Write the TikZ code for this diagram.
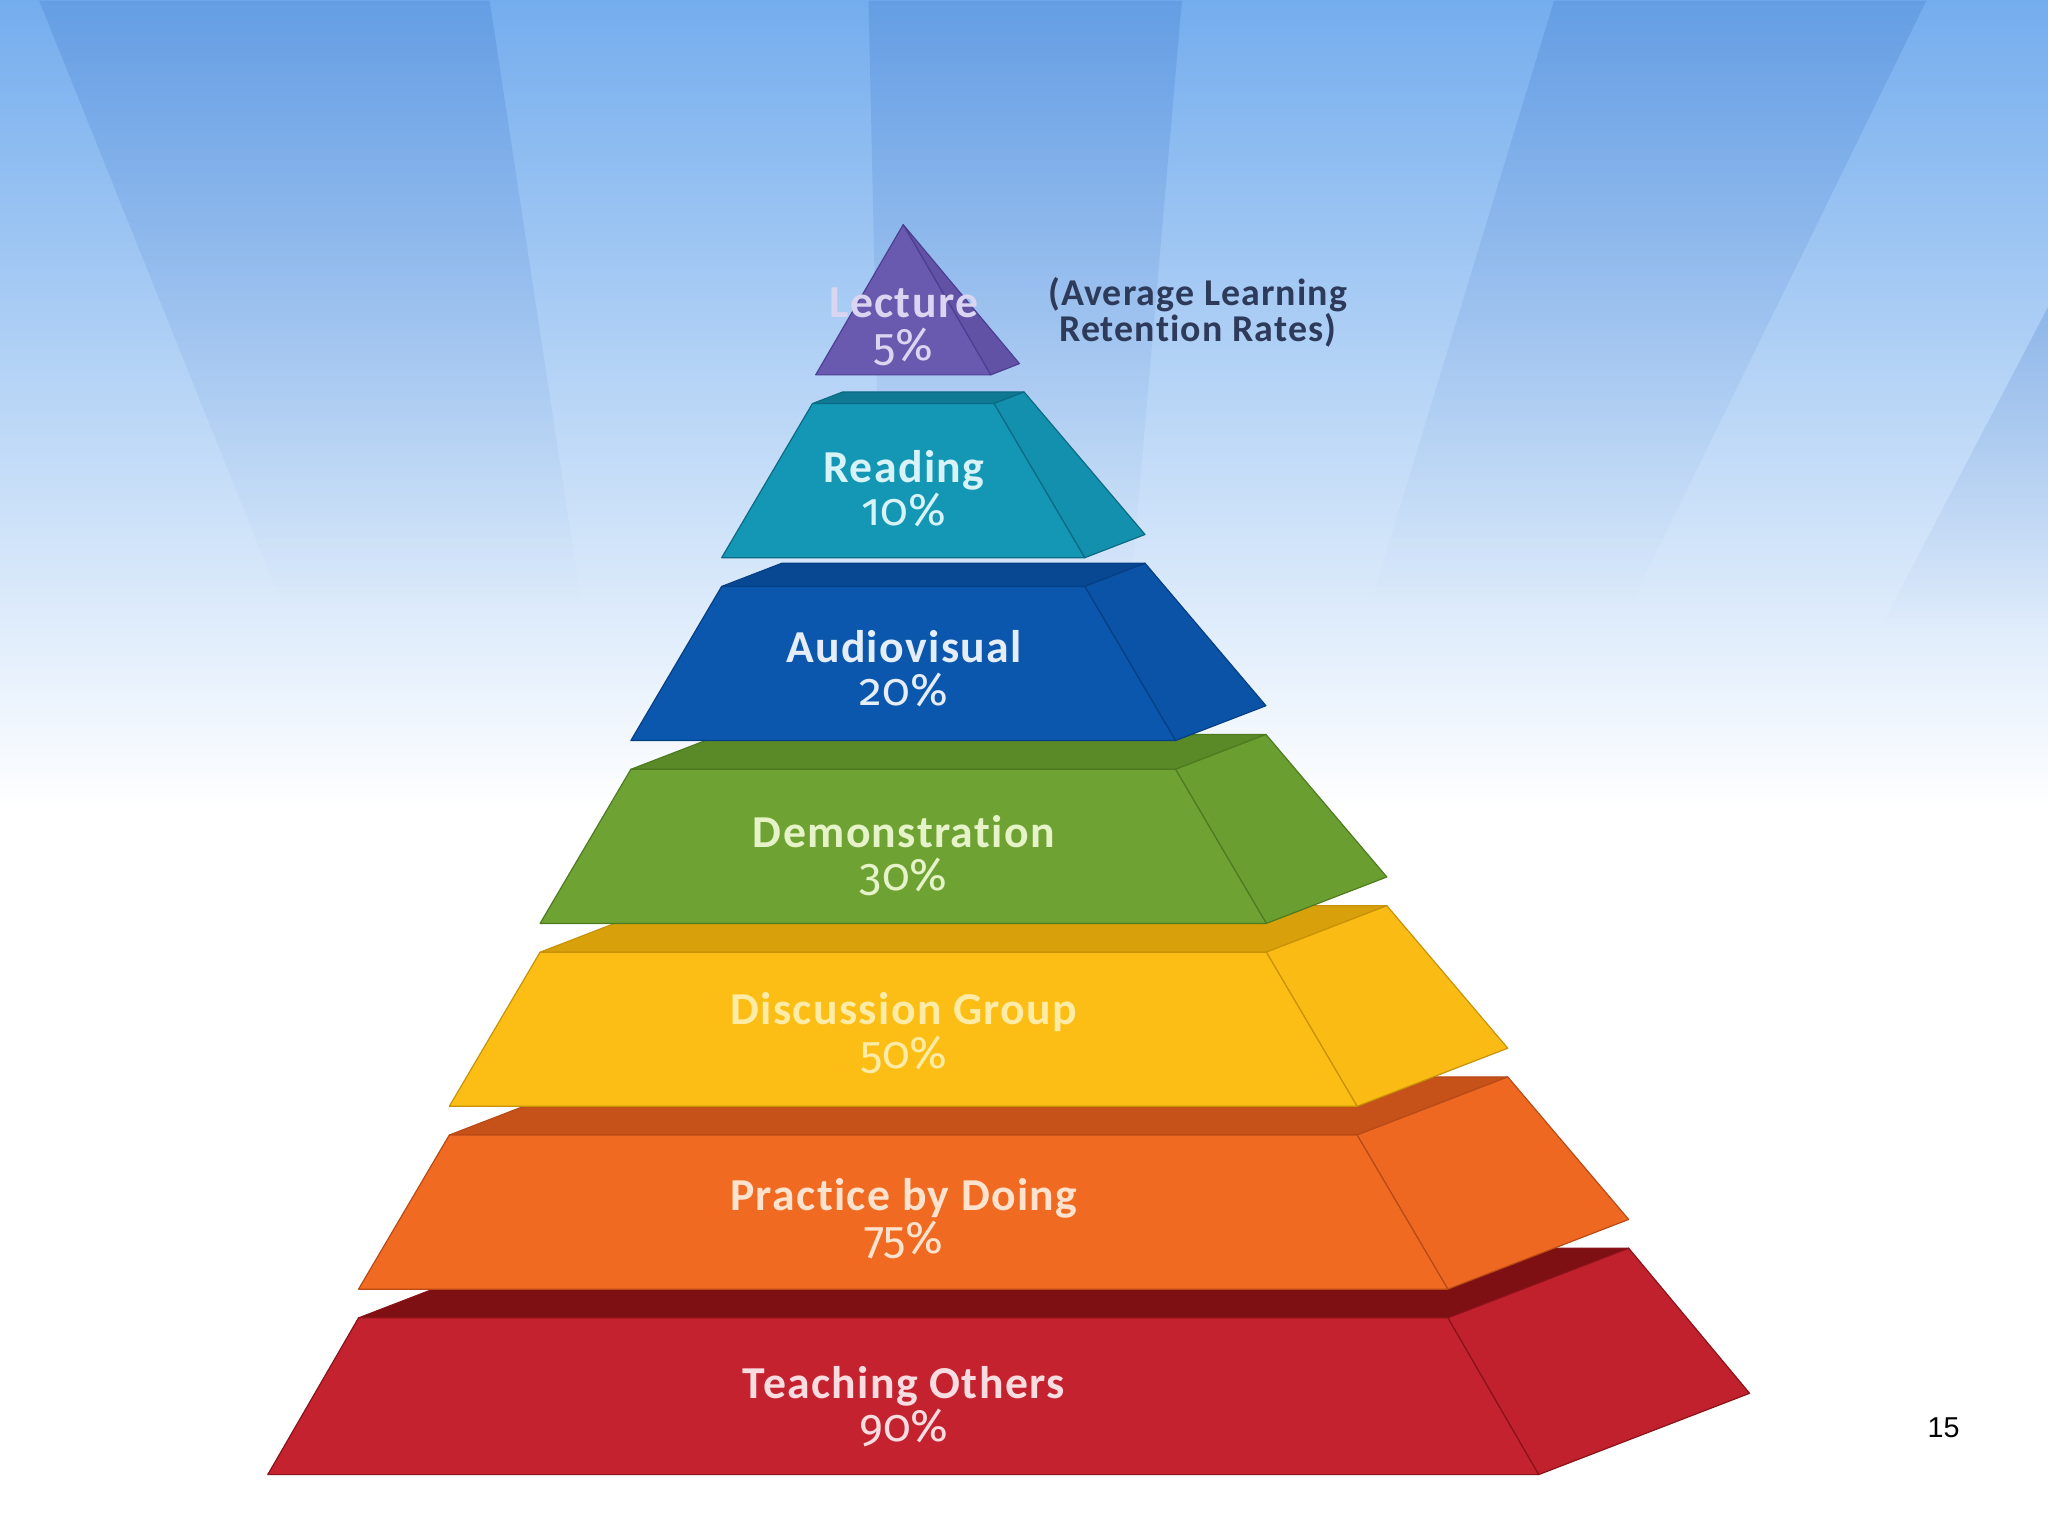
\documentclass[tikz,border=0pt]{standalone}
\usepackage{fontspec}
\setmainfont{Carlito}[Ligatures=NoCommon, LetterSpace=3]
\newfontfamily\numfont{Fira Sans}[Numbers=OldStyle]
\newfontfamily\pagefont{Liberation Sans}
\usetikzlibrary{fadings}
\tikzfading[name=fadedown, top color=transparent!0, bottom color=transparent!100]
\definecolor{skyA}{HTML}{74ADEE}
\definecolor{skyB}{HTML}{B6D3F5}
\definecolor{rayc}{HTML}{2A62BE}
\definecolor{lecF}{HTML}{6A5AAF}\definecolor{lecS}{HTML}{6152A6}\definecolor{lecL}{HTML}{4C3F92}
\definecolor{reaF}{HTML}{1497B5}\definecolor{reaT}{HTML}{0F7893}\definecolor{reaS}{HTML}{1390AD}\definecolor{reaL}{HTML}{0B6A84}
\definecolor{audF}{HTML}{0A57AD}\definecolor{audT}{HTML}{084893}\definecolor{audS}{HTML}{0A53A6}\definecolor{audL}{HTML}{063F84}
\definecolor{demF}{HTML}{6EA233}\definecolor{demT}{HTML}{5A8A28}\definecolor{demS}{HTML}{6A9E30}\definecolor{demL}{HTML}{4E7A20}
\definecolor{disF}{HTML}{FCBE14}\definecolor{disT}{HTML}{D8A00A}\definecolor{disS}{HTML}{FABB14}\definecolor{disL}{HTML}{C89208}
\definecolor{praF}{HTML}{F06A22}\definecolor{praT}{HTML}{C6521A}\definecolor{praS}{HTML}{EE6822}\definecolor{praL}{HTML}{B84A16}
\definecolor{teaF}{HTML}{C4222F}\definecolor{teaT}{HTML}{7E0F12}\definecolor{teaS}{HTML}{C0212D}\definecolor{teaL}{HTML}{8A1218}
\definecolor{lecTx}{HTML}{DAD5F0}
\definecolor{reaTx}{HTML}{D8F3F8}
\definecolor{audTx}{HTML}{E4EDF8}
\definecolor{demTx}{HTML}{E6F3C8}
\definecolor{disTx}{HTML}{FDEBA6}
\definecolor{praTx}{HTML}{FDE2CE}
\definecolor{teaTx}{HTML}{F8DCE0}
\definecolor{noteTx}{HTML}{2E3A5A}
\def\cx{691.5}
\def\dfx{0.166}
\def\dfy{-0.064}
% #1 yt, #2 yb, #3 half width top, #4 half width bottom, #5 front, #6 top, #7 side, #8 line
\newcommand\tierblock[8]{%
  \pgfmathsetmacro\xtl{\cx-#3}\pgfmathsetmacro\xtr{\cx+#3}%
  \pgfmathsetmacro\xbl{\cx-#4}\pgfmathsetmacro\xbr{\cx+#4}%
  \pgfmathsetmacro\dxt{2*#3*\dfx}\pgfmathsetmacro\dyt{2*#3*\dfy}%
  \pgfmathsetmacro\dxb{2*#4*\dfx}\pgfmathsetmacro\dyb{2*#4*\dfy}%
  \filldraw[facedge, fill=#6, draw=#8] (\xtl,#1) -- (\xtr,#1) -- (\xtr+\dxt,#1+\dyt) -- (\xtl+\dxt,#1+\dyt) -- cycle;
  \filldraw[facedge, fill=#7, draw=#8] (\xtr,#1) -- (\xtr+\dxt,#1+\dyt) -- (\xbr+\dxb,#2+\dyb) -- (\xbr,#2) -- cycle;
  \filldraw[facedge, fill=#5, draw=#8] (\xtl,#1) -- (\xtr,#1) -- (\xbr,#2) -- (\xbl,#2) -- cycle;
}
\newcommand\pct[1]{{\numfont\mdseries\fontsize{35}{33}\selectfont #1}}
\begin{document}
\begin{tikzpicture}[x=1pt,y=-1pt,
  facedge/.style={line width=0.9pt, line join=round},
  rayband/.style={fill=rayc, fill opacity=0.2, path fading=fadedown},
  tiertext/.style={align=center, font=\bfseries\fontsize{35}{33}\selectfont, inner sep=0pt},
  notetext/.style={align=center, font=\bfseries\fontsize{29}{26}\selectfont, text=noteTx, inner sep=0pt}]
\useasboundingbox (0,0) rectangle (1568,1176);
\fill[white] (0,0) rectangle (1568,1176);
\shade[top color=skyA, middle color=skyB, bottom color=white] (0,0) rectangle (1568,620);
\fill[rayband] (30,0) -- (375,0) -- (445,460) -- (215,460) -- cycle;
\fill[rayband] (665,0) -- (905,0) -- (865,460) -- (675,460) -- cycle;
\fill[rayband] (1190,0) -- (1475,0) -- (1250,460) -- (1050,460) -- cycle;
\fill[rayband] (1568,235) -- (1568,480) -- (1440,480) -- cycle;
% tiers, bottom first
\tierblock{1009}{1129}{417}{486.5}{teaF}{teaT}{teaS}{teaL}
\tierblock{869}{987}{347.5}{417}{praF}{praT}{praS}{praL}
\tierblock{729}{847}{278}{347.5}{disF}{disT}{disS}{disL}
\tierblock{589}{707}{208.5}{278}{demF}{demT}{demS}{demL}
\tierblock{449}{567}{139}{208.5}{audF}{audT}{audS}{audL}
\tierblock{309}{427}{69.5}{139}{reaF}{reaT}{reaS}{reaL}
% lecture triangle
\filldraw[facedge, fill=lecS, draw=lecL] (691.5,172) -- (758.5,287) -- (780.5,278.4) -- cycle;
\filldraw[facedge, fill=lecF, draw=lecL] (691.5,172) -- (758.5,287) -- (624.5,287) -- cycle;
% labels
\node[tiertext, text=lecTx] (lec) at (692,250) {Lecture\\\pct{5\%}};
\node[tiertext, text=reaTx] (rea) at (692,374) {Reading\\\pct{10\%}};
\node[tiertext, text=audTx] (aud) at (692,512) {Audiovisual\\\pct{20\%}};
\node[tiertext, text=demTx] (dem) at (692,655) {Demonstration\\\pct{30\%}};
\node[tiertext, text=disTx] (dis) at (692,791) {Discussion Group\\\pct{50\%}};
\node[tiertext, text=praTx] (pra) at (692,933) {Practice by Doing\\\pct{75\%}};
\node[tiertext, text=teaTx] (tea) at (692,1077) {Teaching Others\\\pct{90\%}};
\node[notetext] (note) at (917,239) {(Average Learning\\Retention Rates)};
\node[font=\pagefont\fontsize{22}{24}\selectfont, text=black, inner sep=0pt] (pg) at (1488,1093) {15};
\end{tikzpicture}
\end{document}
